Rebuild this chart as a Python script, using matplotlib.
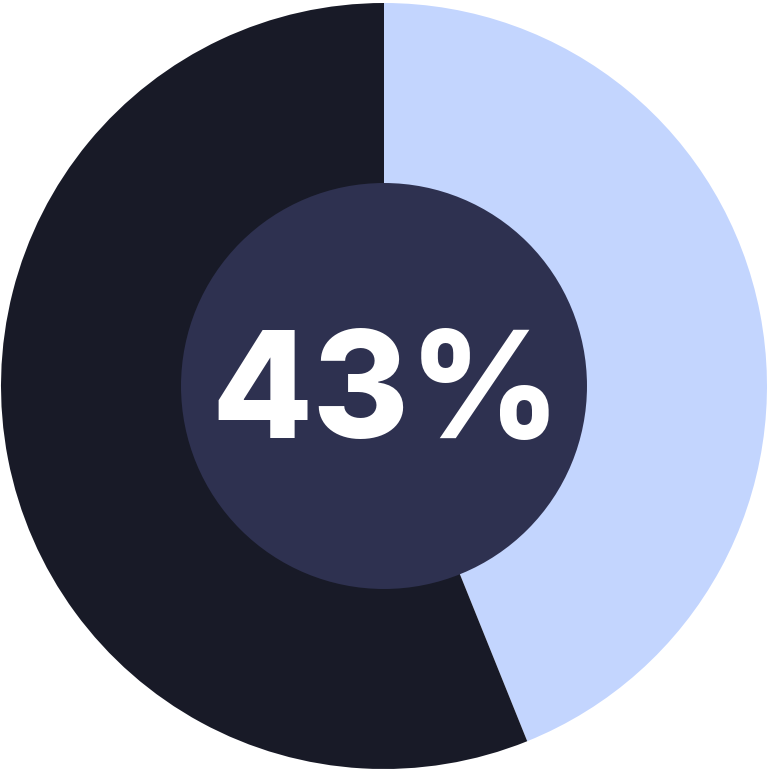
"""Donut chart: single share highlighted, value in the middle."""

import matplotlib

matplotlib.use("Agg")
import matplotlib.pyplot as plt  # noqa: E402
from matplotlib.patches import Circle  # noqa: E402

# data (wedge sizes as drawn in the picture, label as printed)
segments = [43.9, 56.1]
center_label = "43%"

SHARE_COLOR = "#c3d5fe"
REST_COLOR = "#181a27"
HOLE_COLOR = "#2e3150"

fig = plt.figure(figsize=(7.68, 7.72), dpi=100)
ax = fig.add_axes([0, 0, 1, 1])
ax.pie(
    segments,
    colors=[SHARE_COLOR, REST_COLOR],
    startangle=90,
    counterclock=False,
    radius=1.0,
    wedgeprops={"linewidth": 0},
)
ax.add_patch(Circle((0, 0), 0.53, color=HOLE_COLOR, linewidth=0, zorder=3))
ax.text(0.005, -0.034, center_label, ha="center", va="center", color="white",
        fontsize=106, fontweight="heavy", family=["Inter", "DejaVu Sans"], zorder=4)

ax.set_aspect("equal")
ax.set_xlim(-768 / 766, 768 / 766)
ax.set_ylim(-772 / 766, 772 / 766)
ax.axis("off")
fig.savefig("out.png", dpi=100, transparent=True)
